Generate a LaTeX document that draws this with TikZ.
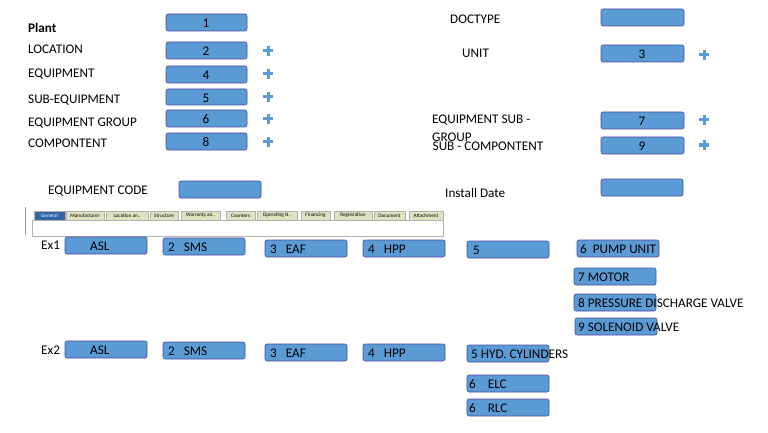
\documentclass[tikz,border=0pt]{standalone}
\usepackage{fontspec}
\setmainfont{Carlito}
\begin{document}
\begin{tikzpicture}[x=1pt,y=-1pt,
  bx/.style={draw=blue!45!black!70, fill={rgb,255:red,91;green,155;blue,213}, rounded corners=2pt, line width=0.6pt},
  lab/.style={anchor=west, inner sep=0pt, font=\fontsize{13.2}{15}\selectfont},
  plus/.style={draw={rgb,255:red,91;green,155;blue,213}, line width=3pt},
  tab/.style={draw=black!30, fill={rgb,255:red,222;green,226;blue,190}, inner sep=0pt, font=\fontsize{5.2}{6}\selectfont}]
\useasboundingbox (0,0) rectangle (768,433);
% left column
\node[lab, font=\fontsize{13.2}{15}\selectfont\bfseries] (lp) at (28,28) {Plant};
\node[lab] (ll) at (28,49) {LOCATION};
\node[lab] (le) at (28,74) {EQUIPMENT};
\node[lab] (ls) at (28,100) {SUB-EQUIPMENT};
\node[lab] (lg) at (28,123) {EQUIPMENT GROUP};
\node[lab] (lc) at (28,143) {COMPONTENT};
\foreach \a/\b/\t in {14/31/1,42/59/2,66/83/4,89/105/5,110/127/6,133/150/8}{
  \draw[bx] (166,\a) rectangle (247,\b);
  \node[lab, anchor=center] at (206,{(\a+\b)/2+1}) {\t};}
\foreach \y in {51,74,97,119,142} {\draw[plus] (263,\y) -- (273,\y); \draw[plus] (268,\y-5) -- (268,\y+5);}
% right column
\node[lab] (rd) at (450,19) {DOCTYPE};
\node[lab] (ru) at (462,53) {UNIT};
\node[lab] (rg) at (432,120) {EQUIPMENT SUB -};
\node[lab] (rg2) at (432,137) {GROUP};
\node[lab, fill=white, inner sep=0.5pt] (rc) at (432,146) {SUB - COMPONTENT};
\draw[bx] (601,9) rectangle (684,26);
\foreach \a/\b/\t in {45/62/3,112/129/7,137/154/9}{
  \draw[bx] (601,\a) rectangle (684,\b);
  \node[lab, anchor=center] at (642,{(\a+\b)/2+1}) {\t};}
\foreach \y in {55,120,145} {\draw[plus] (699,\y) -- (709,\y); \draw[plus] (704,\y-5) -- (704,\y+5);}
\node[lab] (ec) at (48,191) {EQUIPMENT CODE};
\draw[bx] (179,181) rectangle (261,198);
\node[lab] (id) at (445,193) {Install Date};
\draw[bx] (601,179) rectangle (683,196);
% tab strip
\draw[black!40, line width=1pt] (25,207) -- (25,235);
\draw[black!30, fill=white] (32,220) rectangle (443,236);
\foreach \a/\b/\t in {66/104/Manufacturer,106/148/Location an..,150/178/Structure,181/220/Warranty an..,226/255/Counters,257/297/Operating N..,301/330/Financing,334/372/Registration,374/405/Document,409/443/Attachment}
  \node[tab, minimum width={\b-\a}, minimum height=9] at ({(\a+\b)/2},215.5) {\t};
\node[tab, fill={rgb,255:red,50;green,100;blue,170}, text=white, minimum width=31, minimum height=9] at (49.5,215.5) {General};
% Ex rows
\node[lab] (e1) at (41,245) {Ex1};
\node[lab] (e2) at (41,350) {Ex2};
\foreach \x/\y in {65/237,163/238,265/240,363/240,467/241,577/240,574/268,574/294,575/318,
  65/341,163/342,265/344,363/344,467/345,467/375,467/399}{
  \draw[bx] (\x,\y) rectangle ({\x+82},{\y+17});}
\foreach \x/\y/\t in {90/237/ASL,168/238/2\ \ \ SMS,270/240/3\ \ \ EAF,368/240/4\ \ \ HPP,473/241/5,580/240/6\ \ PUMP UNIT,578/268/7\ MOTOR,578/294/8\ PRESSURE DISCHARGE VALVE,578/318/9\ SOLENOID VALVE,
  90/341/ASL,168/342/2\ \ \ SMS,270/344/3\ \ \ EAF,368/344/4\ \ \ HPP,471/345/5 HYD. CYLINDERS,469/375/6\ \ \ \ ELC,469/399/6\ \ \ \ RLC}
  \node[lab] at (\x,{\y+9}) {\t};
\end{tikzpicture}
\end{document}
